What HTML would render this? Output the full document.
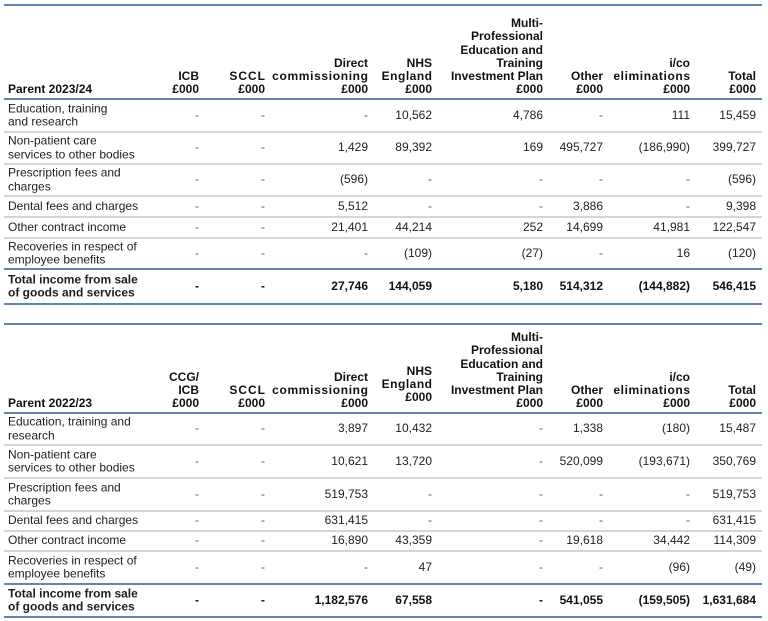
<!DOCTYPE html>
<html>
<head>
<meta charset="utf-8">
<style>
html,body{margin:0;padding:0;background:#fff;}
body{width:768px;height:621px;position:relative;overflow:hidden;font-family:"Liberation Sans",Arial,sans-serif;font-size:12px;color:#222;}
.ln{position:absolute;left:4px;width:758px;height:2px;}
.b{background:#6383b2;}
.g{background:#cfd6e0;height:1.6px;}
.r{position:absolute;left:0;width:768px;}
.r span{position:absolute;top:50%;transform:translateY(-50%);line-height:13.6px;white-space:nowrap;text-align:right;}
.r span.lb{left:8px;text-align:left;color:#1e1e1e;}
.h{position:absolute;left:0;width:768px;font-weight:bold;color:#111;}
.h span{position:absolute;bottom:0;line-height:13.2px;text-align:right;white-space:nowrap;}
.h span.lb{left:8px;text-align:left;}
.h i{font-style:normal;}
.ws1{letter-spacing:0.65px;margin-right:-0.65px;}
.ws2{letter-spacing:0.5px;margin-right:-0.5px;}
.ws3{letter-spacing:1px;margin-right:-1px;}
.ws4{letter-spacing:0.6px;margin-right:-0.6px;}
.c1{right:569px;}
.c2{right:503px;}
.c3{right:400px;}
.c4{right:336px;}
.c5{right:225px;}
.c6{right:165px;}
.c7{right:78px;}
.c8{right:12px;}
.t{font-weight:bold;color:#111;}
.d{color:#555;}
</style>
</head>
<body>

<!-- TABLE 1 -->
<div class="ln b" style="top:4px"></div>
<div class="h" style="top:6px;height:90.5px">
  <span class="lb">Parent 2023/24</span>
  <span class="c1">ICB<br>£000</span>
  <span class="c2"><i class="ws3">SCCL</i><br>£000</span>
  <span class="c3">Direct<br><i class="ws1">commissioning</i><br>£000</span>
  <span class="c4">NHS<br><i class="ws2">England</i><br>£000</span>
  <span class="c5">Multi-<br>Professional<br>Education and<br>Training<br>Investment Plan<br>£000</span>
  <span class="c6">Other<br>£000</span>
  <span class="c7">i/co<br><i class="ws4">eliminations</i><br>£000</span>
  <span class="c8">Total<br>£000</span>
</div>
<div class="ln b" style="top:98px"></div>

<div class="r" style="top:100px;height:31px">
  <span class="lb">Education, training<br>and research</span>
  <span class="c1 d">-</span><span class="c2 d">-</span><span class="c3 d">-</span>
  <span class="c4">10,562</span><span class="c5">4,786</span><span class="c6 d">-</span>
  <span class="c7">111</span><span class="c8">15,459</span>
</div>
<div class="ln g" style="top:131px"></div>

<div class="r" style="top:133px;height:30px">
  <span class="lb">Non-patient care<br>services to other bodies</span>
  <span class="c1 d">-</span><span class="c2 d">-</span><span class="c3">1,429</span>
  <span class="c4">89,392</span><span class="c5">169</span><span class="c6">495,727</span>
  <span class="c7">(186,990)</span><span class="c8">399,727</span>
</div>
<div class="ln g" style="top:163px"></div>

<div class="r" style="top:165px;height:30px">
  <span class="lb">Prescription fees and<br>charges</span>
  <span class="c1 d">-</span><span class="c2 d">-</span><span class="c3">(596)</span>
  <span class="c4 d">-</span><span class="c5 d">-</span><span class="c6 d">-</span>
  <span class="c7 d">-</span><span class="c8">(596)</span>
</div>
<div class="ln g" style="top:195px"></div>

<div class="r" style="top:197px;height:19px">
  <span class="lb">Dental fees and charges</span>
  <span class="c1 d">-</span><span class="c2 d">-</span><span class="c3">5,512</span>
  <span class="c4 d">-</span><span class="c5 d">-</span><span class="c6">3,886</span>
  <span class="c7 d">-</span><span class="c8">9,398</span>
</div>
<div class="ln g" style="top:216px"></div>

<div class="r" style="top:218px;height:19px">
  <span class="lb">Other contract income</span>
  <span class="c1 d">-</span><span class="c2 d">-</span><span class="c3">21,401</span>
  <span class="c4">44,214</span><span class="c5">252</span><span class="c6">14,699</span>
  <span class="c7">41,981</span><span class="c8">122,547</span>
</div>
<div class="ln g" style="top:237px"></div>

<div class="r" style="top:239px;height:29px">
  <span class="lb">Recoveries in respect of<br>employee benefits</span>
  <span class="c1 d">-</span><span class="c2 d">-</span><span class="c3 d">-</span>
  <span class="c4">(109)</span><span class="c5">(27)</span><span class="c6 d">-</span>
  <span class="c7">16</span><span class="c8">(120)</span>
</div>
<div class="ln b" style="top:268px"></div>

<div class="r t" style="top:270px;height:33px">
  <span class="lb t">Total income from sale<br>of goods and services</span>
  <span class="c1">-</span><span class="c2">-</span><span class="c3">27,746</span>
  <span class="c4">144,059</span><span class="c5">5,180</span><span class="c6">514,312</span>
  <span class="c7">(144,882)</span><span class="c8">546,415</span>
</div>
<div class="ln b" style="top:303px"></div>

<!-- TABLE 2 -->
<div class="ln b" style="top:323px"></div>
<div class="h" style="top:325px;height:85.5px">
  <span class="lb">Parent 2022/23</span>
  <span class="c1">CCG/<br>ICB<br>£000</span>
  <span class="c2"><i class="ws3">SCCL</i><br>£000</span>
  <span class="c3">Direct<br><i class="ws1">commissioning</i><br>£000</span>
  <span class="c4" style="bottom:6px">NHS<br><i class="ws2">England</i><br>£000</span>
  <span class="c5">Multi-<br>Professional<br>Education and<br>Training<br>Investment Plan<br>£000</span>
  <span class="c6">Other<br>£000</span>
  <span class="c7">i/co<br><i class="ws4">eliminations</i><br>£000</span>
  <span class="c8">Total<br>£000</span>
</div>
<div class="ln b" style="top:412px"></div>

<div class="r" style="top:414px;height:30px">
  <span class="lb">Education, training and<br>research</span>
  <span class="c1 d">-</span><span class="c2 d">-</span><span class="c3">3,897</span>
  <span class="c4">10,432</span><span class="c5 d">-</span><span class="c6">1,338</span>
  <span class="c7">(180)</span><span class="c8">15,487</span>
</div>
<div class="ln g" style="top:444px"></div>

<div class="r" style="top:446px;height:31px">
  <span class="lb">Non-patient care<br>services to other bodies</span>
  <span class="c1 d">-</span><span class="c2 d">-</span><span class="c3">10,621</span>
  <span class="c4">13,720</span><span class="c5 d">-</span><span class="c6">520,099</span>
  <span class="c7">(193,671)</span><span class="c8">350,769</span>
</div>
<div class="ln g" style="top:477px"></div>

<div class="r" style="top:479px;height:31px">
  <span class="lb">Prescription fees and<br>charges</span>
  <span class="c1 d">-</span><span class="c2 d">-</span><span class="c3">519,753</span>
  <span class="c4 d">-</span><span class="c5 d">-</span><span class="c6 d">-</span>
  <span class="c7 d">-</span><span class="c8">519,753</span>
</div>
<div class="ln g" style="top:510px"></div>

<div class="r" style="top:512px;height:18px">
  <span class="lb">Dental fees and charges</span>
  <span class="c1 d">-</span><span class="c2 d">-</span><span class="c3">631,415</span>
  <span class="c4 d">-</span><span class="c5 d">-</span><span class="c6 d">-</span>
  <span class="c7 d">-</span><span class="c8">631,415</span>
</div>
<div class="ln g" style="top:530px"></div>

<div class="r" style="top:532px;height:18px">
  <span class="lb">Other contract income</span>
  <span class="c1 d">-</span><span class="c2 d">-</span><span class="c3">16,890</span>
  <span class="c4">43,359</span><span class="c5 d">-</span><span class="c6">19,618</span>
  <span class="c7">34,442</span><span class="c8">114,309</span>
</div>
<div class="ln g" style="top:550px"></div>

<div class="r" style="top:552px;height:31px">
  <span class="lb">Recoveries in respect of<br>employee benefits</span>
  <span class="c1 d">-</span><span class="c2 d">-</span><span class="c3 d">-</span>
  <span class="c4">47</span><span class="c5 d">-</span><span class="c6 d">-</span>
  <span class="c7">(96)</span><span class="c8">(49)</span>
</div>
<div class="ln b" style="top:583px"></div>

<div class="r t" style="top:585px;height:31px">
  <span class="lb t">Total income from sale<br>of goods and services</span>
  <span class="c1">-</span><span class="c2">-</span><span class="c3">1,182,576</span>
  <span class="c4">67,558</span><span class="c5">-</span><span class="c6">541,055</span>
  <span class="c7">(159,505)</span><span class="c8">1,631,684</span>
</div>
<div class="ln b" style="top:616px"></div>

</body>
</html>
